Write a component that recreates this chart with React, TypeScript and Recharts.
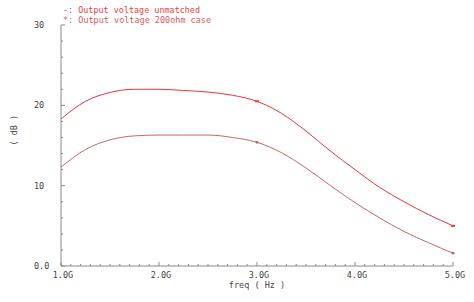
import React from 'react';
import { LineChart, Line, XAxis, YAxis, Label } from 'recharts';

const freq = [1.0, 1.25, 1.5, 1.75, 2.0, 2.25, 2.5, 2.75, 3.0, 3.25, 3.5, 3.75, 4.0, 4.25, 4.5, 4.75, 5.0];
const unmatched = [18.3, 20.5, 21.6, 22.0, 22.0, 21.85, 21.65, 21.25, 20.5, 19.0, 16.8, 14.3, 12.0, 9.8, 8.0, 6.4, 5.0];
const case200 = [12.3, 14.5, 15.7, 16.2, 16.3, 16.3, 16.3, 16.0, 15.4, 14.1, 12.2, 10.0, 7.9, 6.0, 4.3, 2.9, 1.6];
const markerFreqs = [3.0, 5.0];

const xMajor = [1, 2, 3, 4, 5];
const xLabels = ['1.0G', '2.0G', '3.0G', '4.0G', '5.0G'];
const yMajor = [0, 10, 20, 30];
const yLabels = ['0.0', '10', '20', '30'];

const data = freq.map((f, i) => ({ f, a: unmatched[i], b: case200[i] }));

const xTicks = Array.from({ length: 41 }, (_, i) => Math.round((1 + i * 0.1) * 10) / 10);
const yTicks = Array.from({ length: 16 }, (_, i) => i * 2);

const FONT = '"DejaVu Sans Mono", monospace';
const AXIS = '#8a8a8a';
const TXT = '#444';

const XTick = (props: any) => {
  const { x, y, payload } = props;
  const idx = xMajor.indexOf(payload.value);
  return (
    <g>
      <line x1={x} x2={x} y1={y} y2={y - (idx >= 0 ? 4 : 2)} stroke={AXIS} />
      {idx >= 0 && (
        <text x={x + 2} y={y + 12} textAnchor="middle" fontSize={8.5} fontFamily={FONT} fill={TXT}>
          {xLabels[idx]}
        </text>
      )}
    </g>
  );
};

const YTick = (props: any) => {
  const { x, y, payload } = props;
  const idx = yMajor.indexOf(payload.value);
  return (
    <g>
      <line x1={x} x2={x + (idx >= 0 ? 4 : 2)} y1={y} y2={y} stroke={AXIS} />
      {idx >= 0 && (
        <text x={x - 27} y={y + 3} textAnchor="start" fontSize={8.5} fontFamily={FONT} fill={TXT}>
          {yLabels[idx]}
        </text>
      )}
    </g>
  );
};

const DashDot = (props: any) => {
  const { cx, cy, payload } = props;
  if (!markerFreqs.includes(payload.f)) return <g key={props.key} />;
  return <rect key={props.key} x={cx - 2} y={cy - 1} width={4} height={2} fill="#e8343c" />;
};

const StarDot = (props: any) => {
  const { cx, cy, payload } = props;
  if (!markerFreqs.includes(payload.f)) return <g key={props.key} />;
  return <circle key={props.key} cx={cx} cy={cy} r={1.4} fill="#c85a5a" />;
};

export default function App() {
  return (
    <div style={{ position: 'absolute', left: 0, top: 0, background: '#fff' }}>
      <LineChart width={474} height={302} data={data} margin={{ top: 25, right: 21, bottom: 0, left: 0 }}>
        <XAxis
          dataKey="f"
          type="number"
          domain={[1, 5]}
          ticks={xTicks}
          interval={0}
          tick={<XTick />}
          tickLine={false}
          tickSize={0}
          tickMargin={0}
          height={36}
          stroke={AXIS}
        >
          <Label value="freq ( Hz )" position="insideBottom" offset={14} fontSize={8.5} fontFamily={FONT} fill={TXT} />
        </XAxis>
        <YAxis
          type="number"
          domain={[0, 30]}
          ticks={yTicks}
          interval={0}
          tick={<YTick />}
          tickLine={false}
          tickSize={0}
          tickMargin={0}
          width={61}
          stroke={AXIS}
        >
          <Label value="( dB )" angle={-90} position="insideLeft" offset={14} fontSize={8.5} fontFamily={FONT} fill={TXT} />
        </YAxis>
        <Line
          type="monotone"
          dataKey="a"
          stroke="#e8343c"
          strokeWidth={1}
          dot={<DashDot />}
          activeDot={false}
          isAnimationActive={false}
        />
        <Line
          type="monotone"
          dataKey="b"
          stroke="#cc6464"
          strokeWidth={1}
          dot={<StarDot />}
          activeDot={false}
          isAnimationActive={false}
        />
        <text x={63} y={13} fontSize={8.5} fontFamily={FONT} fill="#e4404a" textLength={137} lengthAdjust="spacingAndGlyphs">
          -: Output voltage unmatched
        </text>
        <text x={63} y={23} fontSize={8.5} fontFamily={FONT} fill="#d65a5a" textLength={148} lengthAdjust="spacingAndGlyphs">
          *: Output voltage 200ohm case
        </text>
      </LineChart>
    </div>
  );
}
